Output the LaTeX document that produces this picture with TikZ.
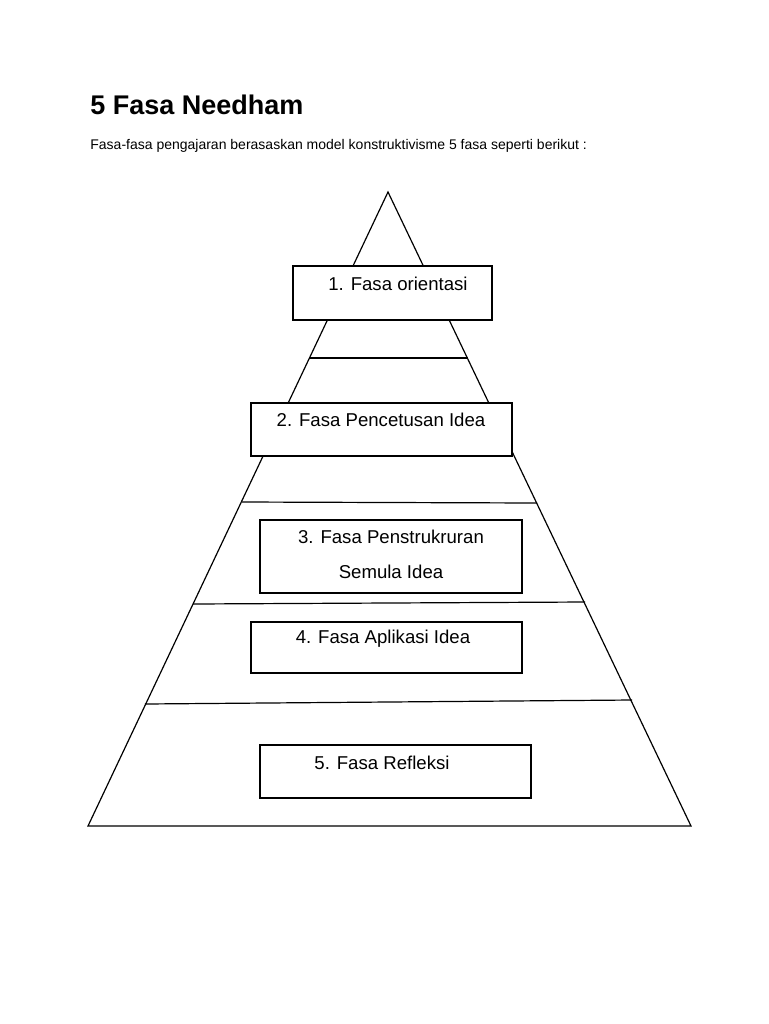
\documentclass[tikz,border=0pt]{standalone}
\usepackage{fontspec}
\setmainfont{Liberation Sans}
\begin{document}
\begin{tikzpicture}[x=0.5pt,y=-0.5pt,
  fasebox/.style={draw,fill=white,line width=0.6pt},
  lbl/.style={font=\fontsize{9.3}{11}\selectfont,anchor=center,inner sep=0}]
\useasboundingbox (0,0) rectangle (768,1024);
\node[anchor=west,inner sep=0,font=\bfseries\fontsize{13.5}{16}\selectfont] (title) at (90,105) {5 Fasa Needham};
\node[anchor=west,inner sep=0,font=\fontsize{7}{9}\selectfont] (sub) at (90,146) {Fasa-fasa pengajaran berasaskan model konstruktivisme 5 fasa seperti berikut :};
\coordinate (apex) at (388,192);
\coordinate (bl) at (88,826);
\coordinate (br) at (691,826);
\draw[line width=0.6pt] (apex) -- (bl) -- (br) -- cycle;
\draw[line width=0.6pt] (310,358) -- (468,358);
\draw[line width=0.6pt] (242,502) -- (537,503);
\draw[line width=0.6pt] (193,604) -- (585,602);
\draw[line width=0.6pt] (145,704) -- (632,700);
\draw[fasebox] (293,266) rectangle (492,320);
\draw[fasebox] (251,403) rectangle (512,456);
\draw[fasebox] (260,520) rectangle (522,593);
\draw[fasebox] (251,622) rectangle (522,673);
\draw[fasebox] (260,745) rectangle (531,798);
\node[lbl] (l1) at (398,284) {1. Fasa orientasi};
\node[lbl] (l2) at (381,420) {2. Fasa Pencetusan Idea};
\node[lbl] (l3a) at (391,537) {3. Fasa Penstrukruran};
\node[lbl] (l3b) at (391,572) {Semula Idea};
\node[lbl] (l4) at (383,639) {4. Fasa Aplikasi Idea};
\node[lbl] (l5) at (382,763) {5. Fasa Refleksi};
\end{tikzpicture}
\end{document}
